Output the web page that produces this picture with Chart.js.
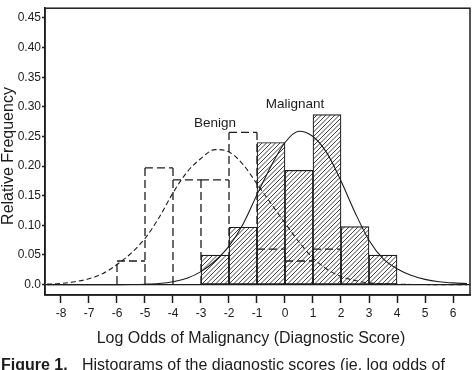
<!DOCTYPE html>
<html><head><meta charset="utf-8">
<script src="https://cdn.jsdelivr.net/npm/chart.js@4.4.1/dist/chart.umd.min.js"></script>
<style>html,body{margin:0;padding:0;background:#fff;}canvas{display:block;}</style>
</head><body>
<canvas id="c" width="474" height="370"></canvas>
<script>
// ---- data ----
const xTickValues = [-8,-7,-6,-5,-4,-3,-2,-1,0,1,2,3,4,5,6];
const xTickLabels = ['-8','-7','-6','-5','-4','-3','-2','-1','0','1','2','3','4','5','6'];
const yTickValues = [0,0.05,0.10,0.15,0.20,0.25,0.30,0.35,0.40,0.45];
const yTickLabels = ['0.0','0.05','0.10','0.15','0.20','0.25','0.30','0.35','0.40','0.45'];

const benignBinStart = [-6,-5,-4,-3,-2,-1,0,1];
const benignFreq     = [0.040,0.197,0.177,0.177,0.257,0.060,0.040,0.060];
const malignantBinStart = [-3,-2,-1,0,1,2,3];
const malignantFreq     = [0.050,0.097,0.240,0.193,0.287,0.098,0.050];
const binWidth = 1;

const curveX = [-8.5,-8,-7.5,-7,-6.5,-6,-5.5,-5,-4.5,-4,-3.5,-3,-2.5,-2,-1.5,-1,-0.5,0,0.5,1,1.5,2,2.5,3,3.5,4,4.5,5,5.5,6,6.5];
const benignCurve = [0.001,0.002,0.005,0.010,0.019,0.034,0.053,0.078,0.113,0.155,0.190,0.213,0.228,0.224,0.203,0.170,0.137,0.104,0.072,0.045,0.026,0.014,0.007,0.003,0.0015,0.0008,0.0004,0.0002,0.0001,0.0001,0.0];
const malignantCurve = [0,0,0,0,0,0.0001,0.0003,0.0008,0.002,0.005,0.011,0.022,0.040,0.065,0.102,0.152,0.200,0.240,0.259,0.250,0.222,0.175,0.122,0.075,0.044,0.027,0.016,0.009,0.005,0.003,0.002];

const seriesNames = ['Benign','Malignant'];
const xTitle = 'Log Odds of Malignancy (Diagnostic Score)';
const yTitle = 'Relative Frequency';
const captionBold = 'Figure 1.';
const captionText = 'Histograms of the diagnostic scores (ie, log odds of';

// ---- styling ----
const FONT = '"Liberation Sans", Arial, Helvetica, sans-serif';
const INK = '#1c1c1c';

const canvas = document.getElementById('c');
const mainCtx = canvas.getContext('2d');
function makeHatch() {
  const s = 9;
  const c = document.createElement('canvas'); c.width = s; c.height = s;
  const g = c.getContext('2d');
  g.fillStyle = '#fff'; g.fillRect(0,0,s,s);
  g.strokeStyle = '#2a2a2a'; g.lineWidth = 0.9;
  for (const k of [0,4.5,9,13.5,18]) { g.beginPath(); g.moveTo(k+1,-1); g.lineTo(k-10,10); g.stroke(); }
  return mainCtx.createPattern(c,'repeat');
}
const hatch = makeHatch();

const benignOutline = {
  id: 'benignOutline',
  afterDatasetDraw(chart, args) {
    const ds = chart.data.datasets[args.index];
    if (ds.key !== 'benignBars') return;
    const ctx = chart.ctx, ca = chart.chartArea;
    const rects = args.meta.data.map(e => {
      const p = e.getProps(['x','y','base','width'], true);
      return {l: p.x - p.width/2, r: p.x + p.width/2, t: p.y, b: p.base};
    });
    ctx.save();
    ctx.beginPath(); ctx.rect(ca.left, ca.top, ca.right-ca.left, ca.bottom-ca.top); ctx.clip();
    ctx.setLineDash([8,4]); ctx.lineWidth = 1.3; ctx.strokeStyle = INK;
    rects.forEach((r,i) => {
      ctx.beginPath(); ctx.moveTo(r.l, r.t); ctx.lineTo(r.r, r.t); ctx.stroke();
      const prev = rects[i-1];
      let top = r.t;
      if (prev && Math.abs(prev.r - r.l) < 1) top = Math.min(top, prev.t);
      ctx.beginPath(); ctx.moveTo(r.l, r.b); ctx.lineTo(r.l, top); ctx.stroke();
      const next = rects[i+1];
      if (!next || Math.abs(next.l - r.r) >= 1) { ctx.beginPath(); ctx.moveTo(r.r, r.b); ctx.lineTo(r.r, r.t); ctx.stroke(); }
    });
    ctx.restore();
  }
};

const frameAndText = {
  id: 'frameAndText',
  afterDraw(chart) {
    const ctx = chart.ctx, ca = chart.chartArea;
    const xs = chart.scales.x, ys = chart.scales.y;
    ctx.save();
    ctx.strokeStyle = INK; ctx.lineWidth = 1.5;
    ctx.strokeRect(ca.left, ca.top, ca.right-ca.left, ca.bottom-ca.top);
    ctx.fillStyle = INK;
    // series labels
    ctx.font = '13.5px ' + FONT; ctx.textAlign = 'center'; ctx.textBaseline = 'middle';
    ctx.fillText(seriesNames[0], xs.getPixelForValue(-2.5), ys.getPixelForValue(0.273));
    ctx.fillText(seriesNames[1], xs.getPixelForValue(0.36), ys.getPixelForValue(0.304));
    // axis titles
    ctx.font = '16px ' + FONT; ctx.textBaseline = 'alphabetic';
    ctx.fillText(xTitle, 251, 343);
    ctx.save(); ctx.translate(12.5, 156); ctx.rotate(-Math.PI/2);
    ctx.fillText(yTitle, 0, 0); ctx.restore();
    // caption
    ctx.textAlign = 'left';
    ctx.font = 'bold 16px ' + FONT; ctx.fillText(captionBold, 1, 370);
    ctx.font = '16px ' + FONT; ctx.fillText(captionText, 82, 370);
    ctx.restore();
  }
};

new Chart(canvas, {
  type: 'bar',
  data: {
    datasets: [
      { type: 'line', label: 'Malignant curve', order: 0,
        data: curveX.map((x,i) => ({x, y: malignantCurve[i]})),
        borderColor: INK, borderWidth: 1.1, pointRadius: 0, cubicInterpolationMode: 'monotone', fill: false },
      { type: 'line', label: 'Benign curve', order: 0,
        data: curveX.map((x,i) => ({x, y: benignCurve[i]})),
        borderColor: INK, borderWidth: 1.1, borderDash: [5,3], pointRadius: 0, cubicInterpolationMode: 'monotone', fill: false },
      { key: 'benignBars', label: seriesNames[0], order: 1,
        data: benignBinStart.map((s,i) => ({x: s + binWidth/2, y: benignFreq[i]})),
        backgroundColor: 'rgba(0,0,0,0)', borderWidth: 0,
        barPercentage: 1, categoryPercentage: 1, grouped: false },
      { key: 'malignantBars', label: seriesNames[1], order: 2,
        data: malignantBinStart.map((s,i) => ({x: s + binWidth/2, y: malignantFreq[i]})),
        backgroundColor: hatch, borderColor: INK, borderWidth: 1.2, borderSkipped: false,
        barPercentage: 1, categoryPercentage: 1, grouped: false }
    ]
  },
  options: {
    responsive: false, animation: false, devicePixelRatio: 1,
    layout: { padding: { top: 3, right: 4, left: 0, bottom: 0 } },
    plugins: { legend: { display: false }, tooltip: { enabled: false }, title: { display: false } },
    scales: {
      x: {
        type: 'linear', min: -8.571, max: 6.607, offset: false,
        afterBuildTicks: s => { s.ticks = xTickValues.map(v => ({value: v})); },
        afterFit: s => { s.height = 75; },
        grid: { display: true, drawOnChartArea: false, drawTicks: true, tickLength: 8, tickColor: INK, tickWidth: 1.5, offset: false },
        border: { display: true, color: INK, width: 1.5 },
        ticks: { callback: v => xTickLabels[xTickValues.indexOf(v)], font: { family: FONT, size: 12 }, color: INK, padding: 3, maxRotation: 0, autoSkip: false }
      },
      y: {
        type: 'linear', min: -0.0174, max: 0.4666,
        afterBuildTicks: s => { s.ticks = yTickValues.map(v => ({value: v})); },
        afterFit: s => { s.width = 45; },
        grid: { display: true, drawOnChartArea: true, drawTicks: true, tickLength: 3,
                color: c => (c.tick && c.tick.value === 0) ? INK : 'rgba(0,0,0,0)', lineWidth: 1.2,
                tickColor: INK, tickWidth: 1.5 },
        border: { display: true, color: INK, width: 1.5 },
        ticks: { callback: v => yTickLabels[yTickValues.indexOf(v)], font: { family: FONT, size: 12 }, color: INK, padding: 1, autoSkip: false }
      }
    }
  },
  plugins: [benignOutline, frameAndText]
});
</script>
</body></html>
